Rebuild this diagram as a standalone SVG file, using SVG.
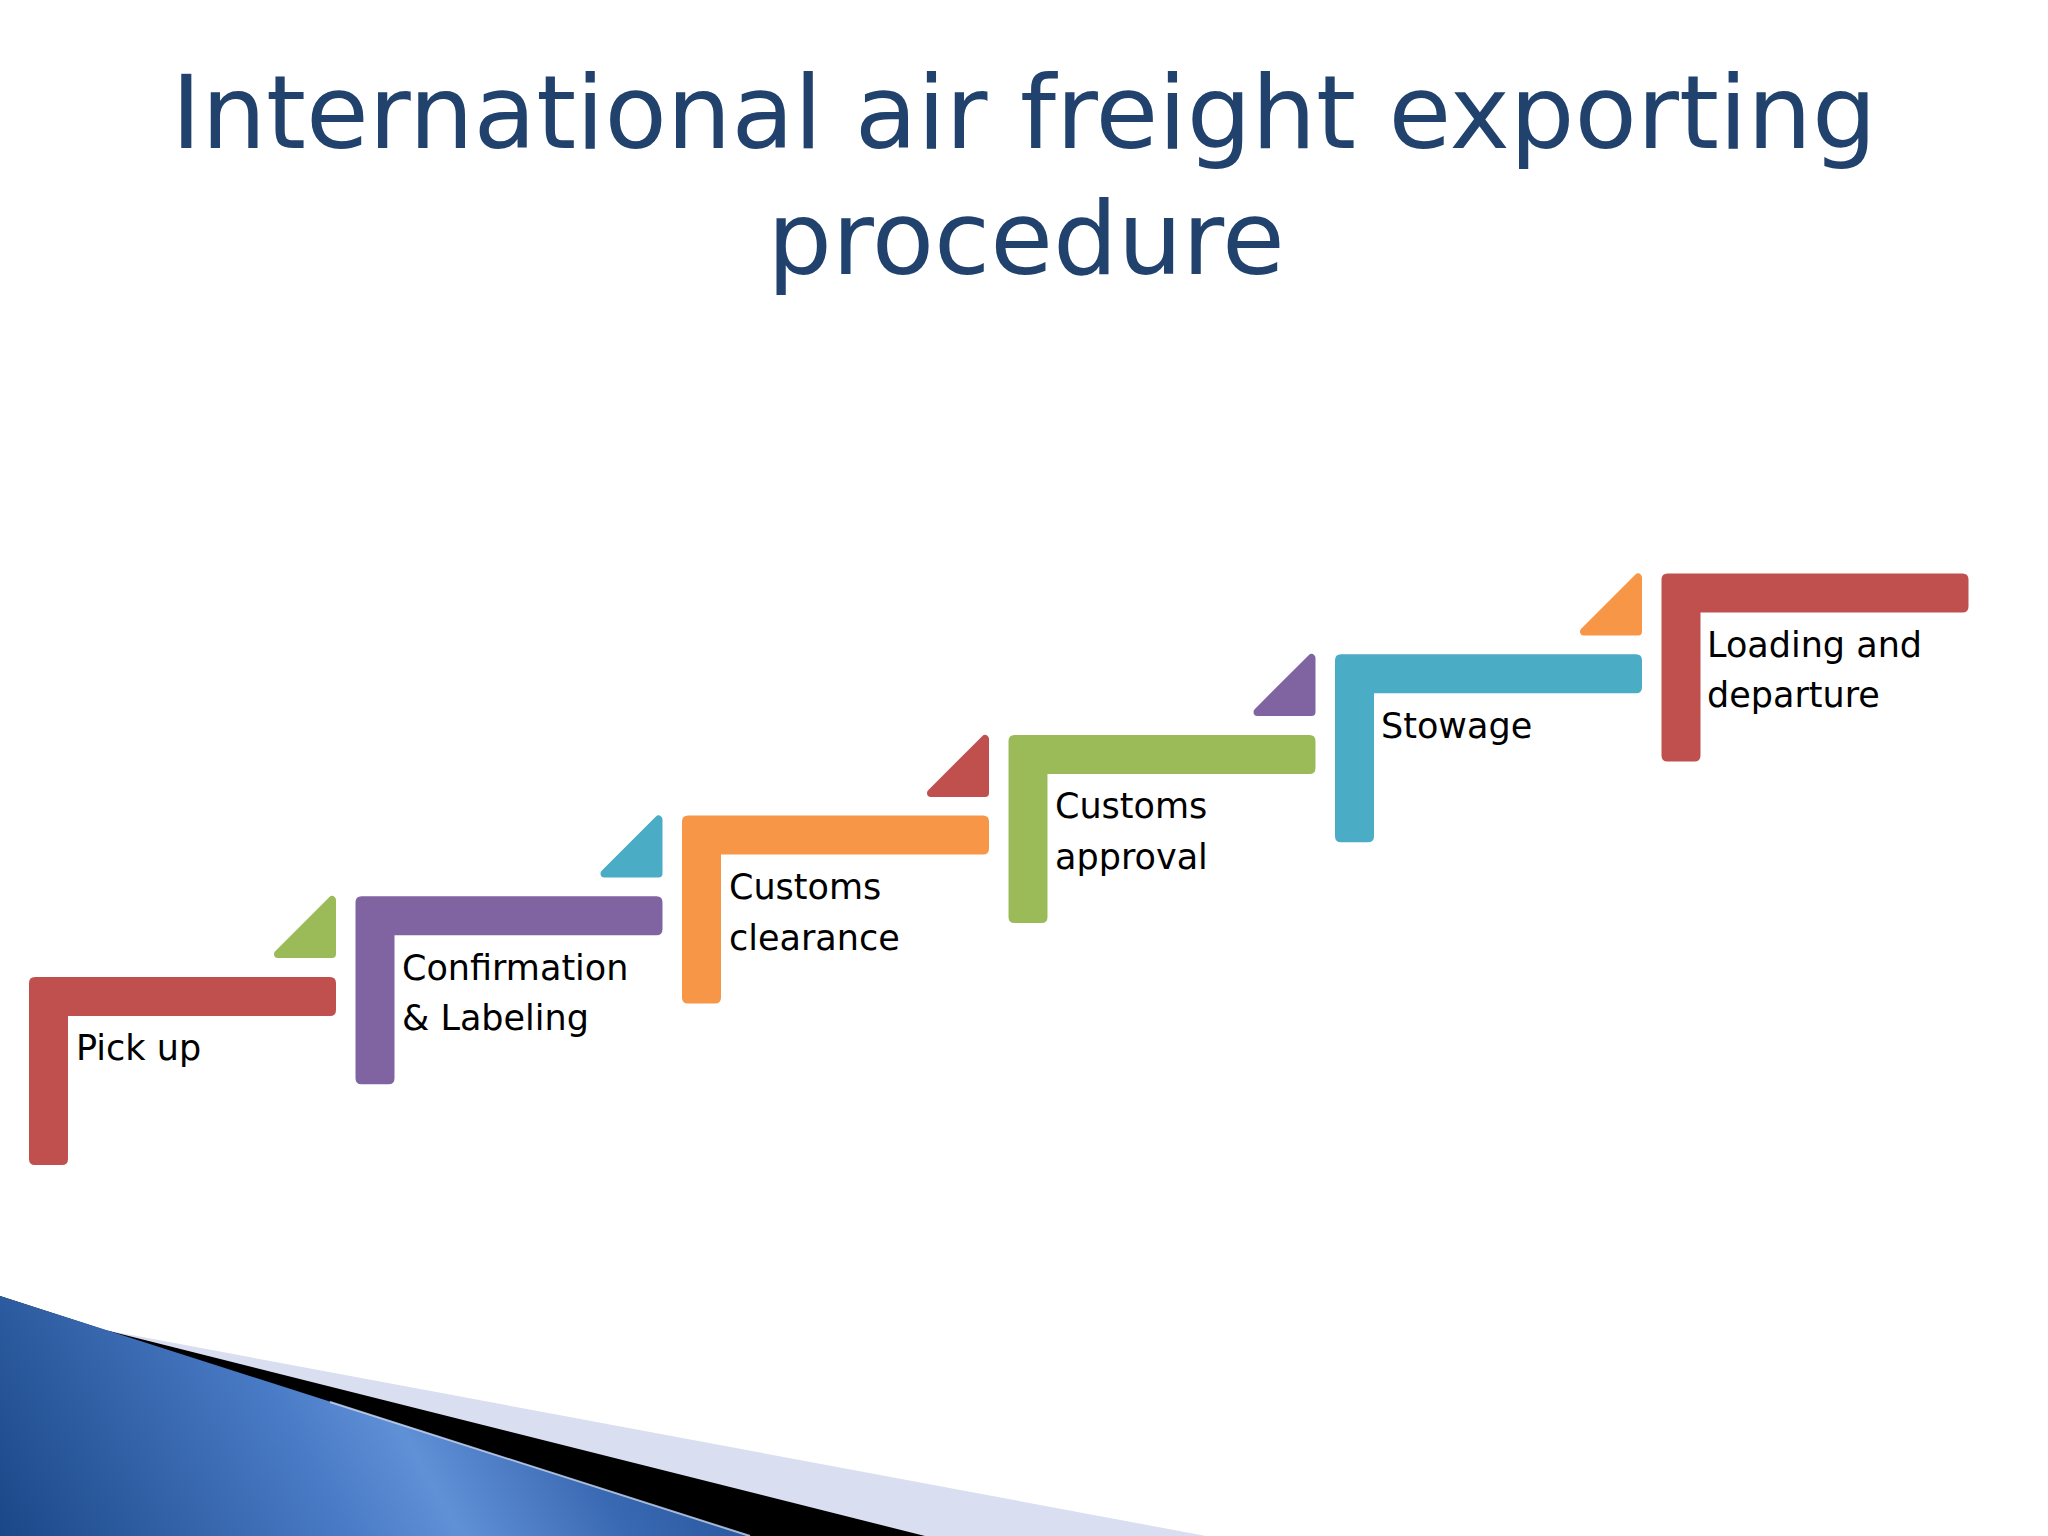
<svg xmlns="http://www.w3.org/2000/svg" width="2048" height="1536" viewBox="0 0 2048 1536">
  <defs>
    <style>
      .title { font-family: "DejaVu Sans", "Liberation Sans", sans-serif; font-size: 102px; fill: #22426E; text-anchor: middle; }
      .lbl { font-family: "DejaVu Sans", "Liberation Sans", sans-serif; font-size: 35px; fill: #000000; }
      .tri { stroke-width: 8; stroke-linejoin: round; }
    </style>
    <path id="ell" d="M6,0 H301 Q307,0 307,6 V33 Q307,39 301,39 H39 V182 Q39,188 33,188 H6 Q0,188 0,182 V6 Q0,0 6,0 Z"/>
    <linearGradient id="blueGrad" gradientUnits="userSpaceOnUse" x1="0" y1="1536" x2="640" y2="1180">
      <stop offset="0" stop-color="#1A4787"/>
      <stop offset="0.42" stop-color="#4A7BC6"/>
      <stop offset="0.55" stop-color="#6090D6"/>
      <stop offset="0.75" stop-color="#3A69B3"/>
      <stop offset="1" stop-color="#1E4E94"/>
    </linearGradient>
  </defs>

  <rect x="0" y="0" width="2048" height="1536" fill="#FFFFFF"/>

  <g id="swoosh">
    <polygon points="0,1296 105,1330 1206,1536 0,1536" fill="#D9DFF0"/>
    <polygon points="0,1296 105,1330 925,1536 0,1536" fill="#000000"/>
    <polygon points="0,1296 750,1536 0,1536" fill="url(#blueGrad)"/>
    <line x1="330" y1="1402" x2="750" y2="1536" stroke="#C9D8F2" stroke-width="2" opacity="0.8"/>
  </g>

  <g id="title">
    <text class="title" x="1024" y="148">International air freight exporting</text>
    <text class="title" x="1026" y="274">procedure</text>
  </g>

  <g id="connectors">
    <polygon class="tri" points="278,954 332,900 332,954" fill="#9BBB59" stroke="#9BBB59"/>
    <polygon class="tri" points="604.5,873.6 658.5,819.6 658.5,873.6" fill="#4BACC6" stroke="#4BACC6"/>
    <polygon class="tri" points="931,793 985,739 985,793" fill="#C0504D" stroke="#C0504D"/>
    <polygon class="tri" points="1257.5,712 1311.5,658 1311.5,712" fill="#8064A2" stroke="#8064A2"/>
    <polygon class="tri" points="1584,631.5 1638,577.5 1638,631.5" fill="#F79646" stroke="#F79646"/>
  </g>

  <g id="step1">
    <use href="#ell" transform="translate(29,977)" fill="#C0504D"/>
    <text class="lbl" x="76" y="1060">Pick up</text>
  </g>
  <g id="step2">
    <use href="#ell" transform="translate(355.5,896.3)" fill="#8064A2"/>
    <text class="lbl" x="402" y="980">Confirmation</text>
    <text class="lbl" x="402" y="1030">&amp; Labeling</text>
  </g>
  <g id="step3">
    <use href="#ell" transform="translate(682,815.6)" fill="#F79646"/>
    <text class="lbl" x="729" y="899">Customs</text>
    <text class="lbl" x="729" y="950">clearance</text>
  </g>
  <g id="step4">
    <use href="#ell" transform="translate(1008.5,735)" fill="#9BBB59"/>
    <text class="lbl" x="1055" y="818">Customs</text>
    <text class="lbl" x="1055" y="869">approval</text>
  </g>
  <g id="step5">
    <use href="#ell" transform="translate(1335,654.2)" fill="#4BACC6"/>
    <text class="lbl" x="1381" y="738">Stowage</text>
  </g>
  <g id="step6">
    <use href="#ell" transform="translate(1661.5,573.5)" fill="#C0504D"/>
    <text class="lbl" x="1707" y="657">Loading and</text>
    <text class="lbl" x="1707" y="707">departure</text>
  </g>
</svg>
